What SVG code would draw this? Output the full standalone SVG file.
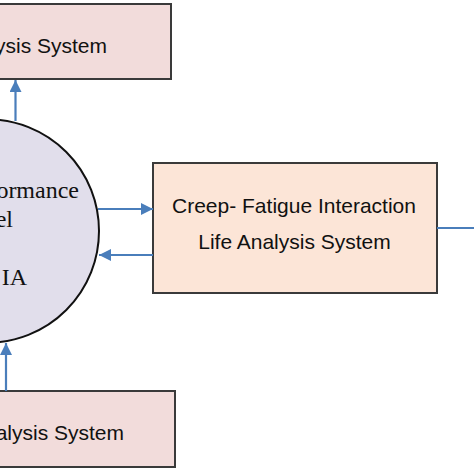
<svg xmlns="http://www.w3.org/2000/svg" width="474" height="474" viewBox="0 0 474 474">
<style>
.box{stroke:#3a3a3a;stroke-width:2}
.sans{font-family:"Liberation Sans",Arial,sans-serif;font-size:21px;fill:#111}
.serif{font-family:"Liberation Serif","Times New Roman",serif;font-size:24px;fill:#111}
.conn{stroke:#4a7ebb;stroke-width:2.2;fill:none}
</style>
<defs>
<marker id="ah" markerWidth="12" markerHeight="12" refX="12" refY="6" orient="auto" markerUnits="userSpaceOnUse">
<path d="M0,0 L12,6 L0,12 Z" fill="#4a7ebb"/>
</marker>
</defs>
<rect width="474" height="474" fill="#fff"/>
<g id="top-box">
<rect class="box" x="-10" y="4" width="181" height="75" fill="#f2dcdb"/>
<text class="sans" x="107" y="53" text-anchor="end">ysis System</text>
</g>
<g id="circle-node">
<circle cx="-12.7" cy="231" r="111.7" fill="#e1deeb" stroke="#111" stroke-width="2"/>
<text class="serif" x="79" y="198" text-anchor="end">ormance</text>
<text class="serif" x="13" y="227" text-anchor="end">el</text>
<text class="serif" x="27" y="285" text-anchor="end">IA</text>
</g>
<g id="creep-box">
<rect class="box" x="153" y="163" width="284" height="130" fill="#fce5d7"/>
<text class="sans" x="294" y="213" text-anchor="middle">Creep- Fatigue Interaction</text>
<text class="sans" x="294.5" y="249" text-anchor="middle">Life Analysis System</text>
</g>
<g id="bottom-box">
<rect class="box" x="-10" y="391" width="185" height="76" fill="#f2dcdb"/>
<text class="sans" x="124" y="440" text-anchor="end">alysis System</text>
</g>
<g id="connectors">
<line class="conn" x1="15.5" y1="121" x2="15.5" y2="80" marker-end="url(#ah)"/>
<line class="conn" x1="6" y1="391" x2="6" y2="343" marker-end="url(#ah)"/>
<line class="conn" x1="98" y1="209" x2="153" y2="209" marker-end="url(#ah)"/>
<line class="conn" x1="153" y1="255" x2="99" y2="255" marker-end="url(#ah)"/>
<line class="conn" x1="437" y1="228" x2="474" y2="228"/>
</g>
</svg>
